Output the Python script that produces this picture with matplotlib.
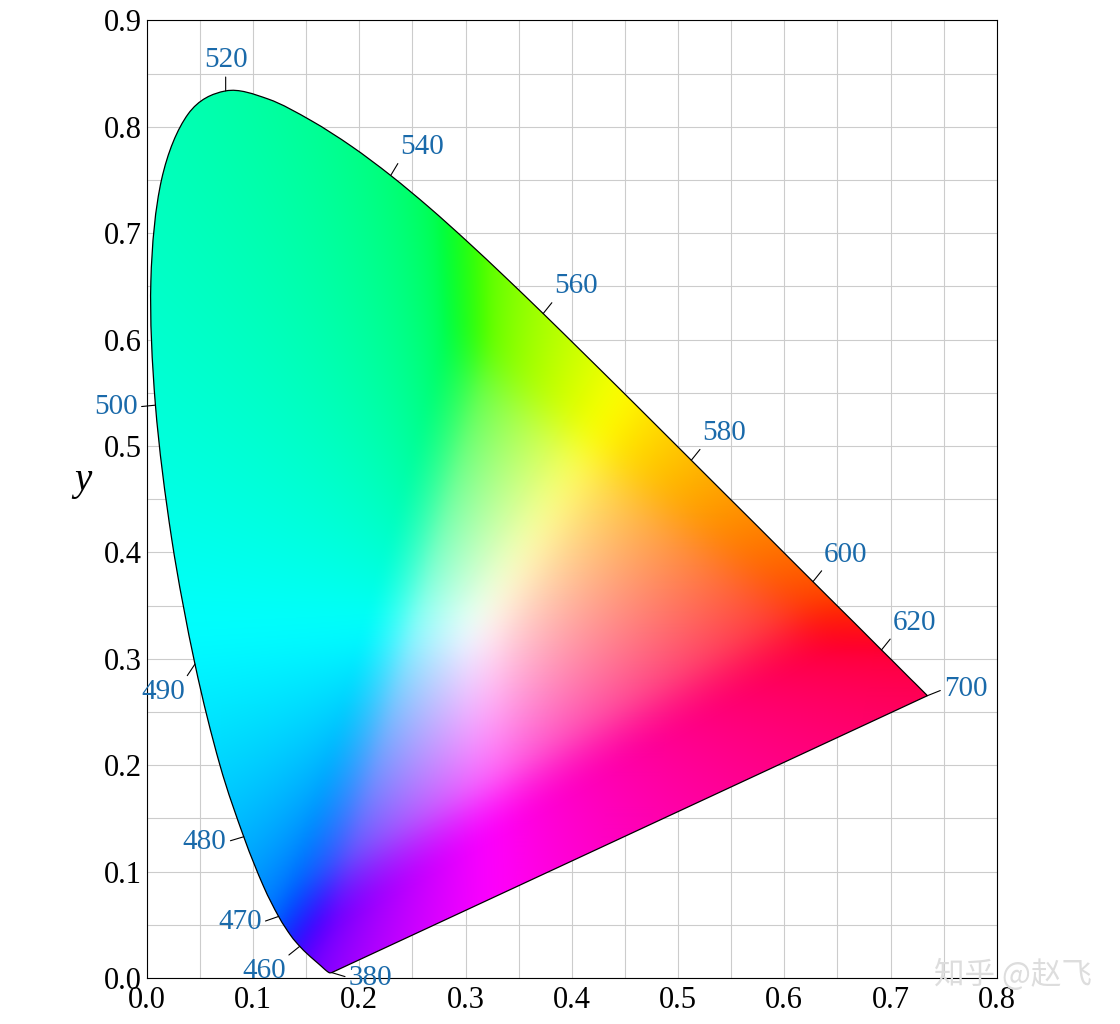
import numpy as np
import matplotlib.pyplot as plt
from matplotlib.path import Path
from matplotlib.patches import PathPatch

# CIE 1931 spectral locus (wavelength nm, x, y)
wavelengths = [380, 385, 390, 395, 400, 405, 410, 415, 420, 425, 430, 435, 440, 445,
               450, 455, 460, 465, 470, 475, 480, 485, 490, 495, 500, 505, 510, 515,
               520, 525, 530, 535, 540, 545, 550, 555, 560, 565, 570, 575, 580, 585,
               590, 595, 600, 605, 610, 615, 620, 625, 630, 635, 640, 645, 650, 655,
               660, 665, 670, 680, 690, 700]
locus_x = [0.1741, 0.1740, 0.1738, 0.1736, 0.1733, 0.1730, 0.1726, 0.1721, 0.1714, 0.1703,
           0.1689, 0.1669, 0.1644, 0.1611, 0.1566, 0.1510, 0.1440, 0.1355, 0.1241, 0.1096,
           0.0913, 0.0687, 0.0454, 0.0235, 0.0082, 0.0039, 0.0139, 0.0389, 0.0743, 0.1142,
           0.1547, 0.1929, 0.2296, 0.2658, 0.3016, 0.3373, 0.3731, 0.4087, 0.4441, 0.4788,
           0.5125, 0.5448, 0.5752, 0.6029, 0.6270, 0.6482, 0.6658, 0.6801, 0.6915, 0.7006,
           0.7079, 0.7140, 0.7190, 0.7230, 0.7260, 0.7283, 0.7300, 0.7311, 0.7320, 0.7334,
           0.7344, 0.7347]
locus_y = [0.0050, 0.0050, 0.0049, 0.0049, 0.0048, 0.0048, 0.0048, 0.0048, 0.0051, 0.0058,
           0.0069, 0.0086, 0.0109, 0.0138, 0.0177, 0.0227, 0.0297, 0.0399, 0.0578, 0.0868,
           0.1327, 0.2007, 0.2950, 0.4127, 0.5384, 0.6548, 0.7502, 0.8120, 0.8338, 0.8262,
           0.8059, 0.7816, 0.7543, 0.7243, 0.6923, 0.6589, 0.6245, 0.5896, 0.5547, 0.5202,
           0.4866, 0.4544, 0.4242, 0.3965, 0.3725, 0.3514, 0.3340, 0.3197, 0.3083, 0.2993,
           0.2920, 0.2859, 0.2809, 0.2770, 0.2740, 0.2717, 0.2700, 0.2689, 0.2680, 0.2666,
           0.2656, 0.2653]

labelled = [380, 460, 470, 480, 490, 500, 520, 540, 560, 580, 600, 620, 700]
# outward direction of tick line for each label
label_dirs = {380: (1, -0.3), 460: (-1, -0.8), 470: (-1, -0.35), 480: (-1, -0.3), 490: (-0.8, -1.2),
              500: (-1, -0.1), 520: (0, 1), 540: (0.6, 1), 560: (0.8, 1), 580: (0.8, 1),
              600: (0.8, 1), 620: (0.8, 1), 700: (1, 0.4)}

plt.rcParams['font.family'] = ['Liberation Serif', 'DejaVu Serif']
fig = plt.figure(figsize=(11.2, 10.24), dpi=100)
ax = fig.add_axes([0.131, 0.045, 0.759, 0.935])

# colour field: xy -> XYZ -> linear sRGB, out-of-gamut desaturated towards white
n = 900
gx, gy = np.meshgrid(np.linspace(0, 0.8, n), np.linspace(0.001, 0.9, n))
gz = 1 - gx - gy
X = gx / gy
Y = np.ones_like(gx)
Z = gz / gy
M = np.array([[3.2406, -1.5372, -0.4986],
              [-0.9689, 1.8758, 0.0415],
              [0.0557, -0.2040, 1.0570]])
rgb = np.stack([M[i, 0] * X + M[i, 1] * Y + M[i, 2] * Z for i in range(3)], axis=-1)
rgb = rgb - np.minimum(rgb.min(axis=-1, keepdims=True), 0)
rgb = rgb / rgb.max(axis=-1, keepdims=True)
rgb = np.where(rgb <= 0.0031308, 12.92 * rgb, 1.055 * np.power(rgb, 1 / 2.4) - 0.055)
rgb = np.clip(rgb, 0, 1)
# soften the field with a box blur
k = 25
for axis in (0, 1):
    pad = [(0, 0)] * 3
    pad[axis] = (k, k)
    p = np.pad(rgb, pad, mode='edge')
    c = np.cumsum(p, axis=axis)
    c = np.insert(c, 0, 0, axis=axis)
    rgb = (np.take(c, range(2 * k + 1, c.shape[axis]), axis=axis)
           - np.take(c, range(0, c.shape[axis] - 2 * k - 1), axis=axis)) / (2 * k + 1)

# smooth outline through the locus points (Catmull-Rom as Bezier)
pts = np.column_stack([locus_x, locus_y])
verts = [tuple(pts[0])]
codes = [Path.MOVETO]
for i in range(len(pts) - 1):
    p0 = pts[max(i - 1, 0)]
    p1, p2 = pts[i], pts[i + 1]
    p3 = pts[min(i + 2, len(pts) - 1)]
    verts += [tuple(p1 + (p2 - p0) / 6), tuple(p2 - (p3 - p1) / 6), tuple(p2)]
    codes += [Path.CURVE4] * 3
verts.append(tuple(pts[0]))
codes.append(Path.LINETO)
patch = PathPatch(Path(verts, codes), facecolor='none', edgecolor='black', lw=0.9, zorder=3)
ax.add_patch(patch)
img = ax.imshow(rgb, origin='lower', extent=[0, 0.8, 0.001, 0.9], interpolation='bilinear',
                zorder=2, aspect='auto')
img.set_clip_path(patch)

blue = '#1a6aaa'
for wl in labelled:
    i = wavelengths.index(wl)
    dx, dy = label_dirs[wl]
    norm = np.hypot(dx, dy)
    dx, dy = dx / norm, dy / norm
    ax.annotate('', xy=(locus_x[i], locus_y[i]), xytext=(dx * 10, dy * 10),
                textcoords='offset points', zorder=4,
                arrowprops=dict(arrowstyle='-', color='black', lw=0.8, shrinkA=0, shrinkB=0))
    ha = 'center' if abs(dx) < 0.3 else ('left' if dx > 0 else 'right')
    va = 'center' if abs(dy) < 0.5 else ('bottom' if dy > 0 else 'top')
    ax.annotate(str(wl), xy=(locus_x[i], locus_y[i]), xytext=(dx * 13, dy * 13),
                textcoords='offset points', ha=ha, va=va, color=blue, fontsize=21,
                zorder=4, annotation_clip=False)

ax.set_xlim(0, 0.8)
ax.set_ylim(0, 0.9)
ax.set_xticks(np.arange(0, 0.81, 0.1))
ax.set_yticks(np.arange(0, 0.91, 0.1))
ax.set_xticks(np.arange(0, 0.81, 0.05), minor=True)
ax.set_yticks(np.arange(0, 0.91, 0.05), minor=True)
ax.set_xticklabels([f'{v:.1f}' for v in np.arange(0, 0.81, 0.1)])
ax.set_yticklabels([f'{v:.1f}' for v in np.arange(0, 0.91, 0.1)])
ax.tick_params(which='both', length=0, labelsize=22)
ax.tick_params(axis='x', pad=6)
ax.grid(which='both', color='#cccccc', lw=0.8, zorder=0)
ax.set_axisbelow(True)
for s in ax.spines.values():
    s.set_linewidth(0.8)
ax.set_ylabel('y', fontsize=28, style='italic', rotation=0)
ax.yaxis.set_label_coords(-0.075, 0.5)

fig.text(0.975, 0.032, '知乎 @赵飞', ha='right', va='bottom', fontsize=22, color='#dddddd',
         family=['Noto Sans CJK SC', 'DejaVu Sans'])

fig.savefig('out.png', dpi=100)
